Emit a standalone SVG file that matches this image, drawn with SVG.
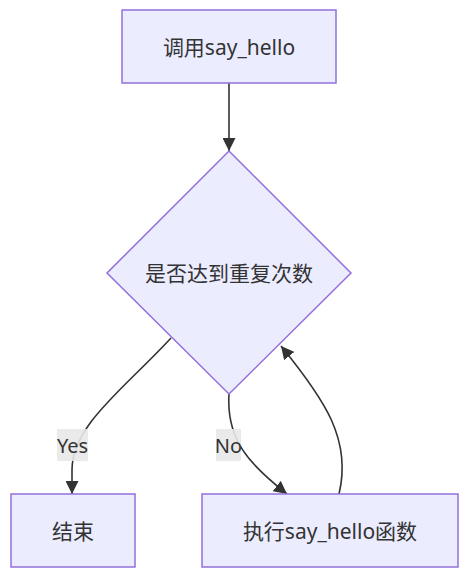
<svg xmlns="http://www.w3.org/2000/svg" width="474" height="583" viewBox="0 0 474 583">
<style>
.node{fill:#ECECFF;stroke:#9370DB;stroke-width:1.5}
.lbl{font-family:"Noto Sans","Noto Sans CJK SC",sans-serif;font-size:21px;fill:#333;text-anchor:middle;dominant-baseline:central}
.edge{fill:none;stroke:#333;stroke-width:1.6}
.elbl{fill:#e8e8e8;opacity:0.9}
</style>
<defs>
<marker id="arr" viewBox="0 0 10 10" refX="10" refY="5" markerWidth="13" markerHeight="13" markerUnits="userSpaceOnUse" orient="auto">
<path d="M0,0 L10,5 L0,10 z" fill="#333"/>
</marker>
</defs>
<rect width="474" height="583" fill="#fff"/>
<g id="connectors">
<path class="edge" d="M229,83 L229,151" marker-end="url(#arr)"/>
<path class="edge" d="M171,338 C125,388 72,425 72,470 L72,494" marker-end="url(#arr)"/>
<path class="edge" d="M229,394 C226,440 250,465 287,494" marker-end="url(#arr)"/>
<path class="edge" d="M339,494 C352,440 325,400 281,346" marker-end="url(#arr)"/>
<g id="label-yes">
<rect class="elbl" x="57" y="429" width="31" height="32"/>
<text class="lbl" x="72.5" y="445" style="font-size:20px">Yes</text>
</g>
<g id="label-no">
<rect class="elbl" x="216" y="429" width="25" height="32"/>
<text class="lbl" x="228.5" y="445" style="font-size:20px">No</text>
</g>
</g>
<g id="A">
<rect class="node" x="122" y="10" width="214" height="73"/>
<text class="lbl" x="229" y="46.5">调用say_hello</text>
</g>
<g id="B">
<polygon class="node" points="229,151 351,273 229,394 107,273"/>
<text class="lbl" x="229" y="273">是否达到重复次数</text>
</g>
<g id="C">
<rect class="node" x="11" y="494" width="124" height="73"/>
<text class="lbl" x="73" y="530.5">结束</text>
</g>
<g id="D">
<rect class="node" x="202" y="494" width="256" height="73"/>
<text class="lbl" x="330" y="530.5">执行say_hello函数</text>
</g>
</svg>
